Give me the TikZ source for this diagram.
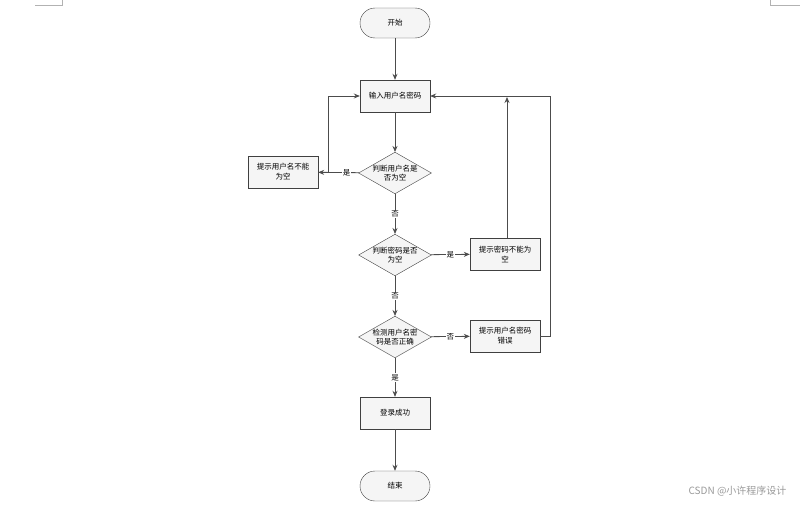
\documentclass[tikz,border=0pt]{standalone}
\usepackage{fontspec}
\setmainfont{Noto Sans CJK SC}
\usetikzlibrary{shapes.geometric,positioning,calc,arrows.meta}
\tikzset{
  box/.style={draw=black!75, fill=black!4, minimum width=70pt, minimum height=32pt, align=center, text width=62pt, font=\fontsize{7.5}{10}\selectfont, inner sep=1pt},
  term/.style={draw=black!75, fill=black!4, rounded corners=15pt, minimum width=70pt, minimum height=30pt, font=\fontsize{7.5}{10}\selectfont},
  dec/.style={draw=black!75, fill=black!4, diamond, aspect=1.75, minimum width=70pt, minimum height=40pt, inner sep=0pt, align=center, font=\fontsize{7.5}{9}\selectfont},
  line/.style={draw=black!70, line width=0.8pt},
  arr/.style={line, -{Stealth[length=6pt,width=5pt]}},
  lab/.style={fill=white, inner sep=1pt, font=\fontsize{7.5}{9}\selectfont}
}
\begin{document}
\begin{tikzpicture}[x=1pt,y=-1pt]
\useasboundingbox (0,0) rectangle (800,506);
% corner marks
\draw[black!30] (35,5) -- (62,5) -- (62,0);
\draw[black!30] (770,0) -- (770,5) -- (800,5);
% nodes
\node[term] (start) at (395,23) {开始};
\node[box] (input) at (395,96) {输入用户名密码};
\node[dec] (chkuser) at (395,173) {判断用户名是\\否为空};
\node[box] (warnuser) at (283,172) {提示用户名不能\\为空};
\node[dec] (chkpwd) at (395,255) {判断密码是否\\为空};
\node[box] (warnpwd) at (505,254) {提示密码不能为\\空};
\node[dec] (chkboth) at (395,337) {检测用户名密\\码是否正确};
\node[box] (warnerr) at (505,336) {提示用户名密码\\错误};
\node[box] (ok) at (395,413) {登录成功};
\node[term] (stop) at (395,486) {结束};
\coordinate (back1) at (328,172);
\coordinate (top2) at (507,97);
% connectors
\draw[arr] (start) -- (input);
\draw[arr] (input) -- (chkuser);
\draw[arr] (chkuser) -- node[lab, pos=0.3] {是} (warnuser);
\draw[arr] (back1) |- (input.west);
\draw[arr] (chkuser) -- node[lab, pos=0.5] {否} (chkpwd);
\draw[arr] (chkpwd) -- node[lab, pos=0.5] {是} (warnpwd);
\draw[arr] (warnpwd.north -| top2) -- (top2);
\draw[arr] (chkpwd) -- node[lab, pos=0.5] {否} (chkboth);
\draw[arr] (chkboth) -- node[lab, pos=0.5] {否} (warnerr);
\draw[arr] (warnerr.east) -- ++(10,0) |- (input.east);
\draw[arr] (chkboth) -- node[lab, pos=0.5] {是} (ok);
\draw[arr] (ok) -- (stop);
% watermark
\node[text=black!40, font=\fontsize{10}{12}\selectfont, anchor=east] (mark) at (790,491) {CSDN @小许程序设计};
\end{tikzpicture}
\end{document}
